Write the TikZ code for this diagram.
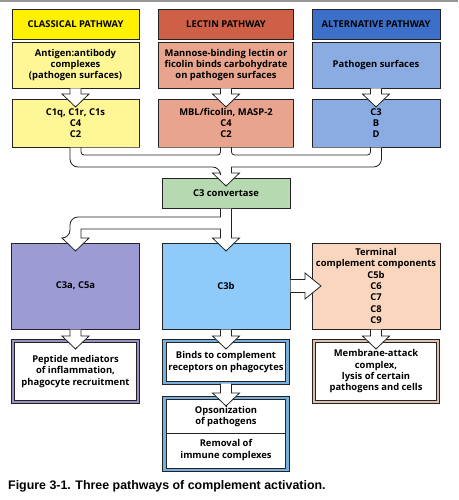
\documentclass[tikz,border=0pt]{standalone}
\usepackage{fontspec}
\setmainfont{Open Sans}
\newfontfamily\capfont{Liberation Sans}
\usetikzlibrary{calc}

\definecolor{edge}{RGB}{35,35,35}
\definecolor{clhead}{RGB}{255,242,0}
\definecolor{clbody}{RGB}{255,246,150}
\definecolor{lchead}{RGB}{206,96,72}
\definecolor{lcbody}{RGB}{232,164,140}
\definecolor{alhead}{RGB}{60,112,200}
\definecolor{albody}{RGB}{138,172,226}
\definecolor{convfill}{RGB}{182,217,177}
\definecolor{pepfill}{RGB}{157,155,212}
\definecolor{bindfill}{RGB}{142,202,250}
\definecolor{termfill}{RGB}{250,214,190}
\definecolor{pepband}{RGB}{150,146,200}
\definecolor{bindband}{RGB}{120,175,225}
\definecolor{termband}{RGB}{222,192,172}
\definecolor{topgray}{RGB}{150,150,150}

\tikzset{
  box/.style={draw=edge, line width=.8pt, fill=#1, outer sep=0pt, inner sep=1pt,
    align=center, font=\bfseries\fontsize{9.4}{11.3}\selectfont},
  outcome/.style={draw=edge, line width=.7pt, double=#1, double distance=2.8pt,
    fill=white, outer sep=0pt, inner sep=1pt, align=center,
    font=\bfseries\fontsize{9.4}{11.3}\selectfont},
  txt/.style={align=center, inner sep=0pt, font=\bfseries\fontsize{9.4}{11.3}\selectfont},
  pipe/.style={draw=edge, line width=.8pt, fill=white, line join=miter},
  pipeline/.style={draw=edge, line width=.8pt},
}

% hollow arrow pointing down from #1 into #2
\newcommand\hollowdown[2]{%
  \draw[pipe] ($(#1.south)+(-5.5,.5)$) -- ($(#2.north)+(-5.5,-5)$) -- ++(-8,0)
    -- ($(#2.north)+(0,8)$) -- ($(#2.north)+(13.5,-5)$) -- ++(-8,0)
    -- ($(#1.south)+(5.5,.5)$);}

\begin{document}
\begin{tikzpicture}[x=1pt, y=-1pt]
  \useasboundingbox (0,0) rectangle (458,500);
  \fill[topgray] (0,0) rectangle (458,2.5);

  % pathway headers
  \node[box=clhead, minimum width=127pt, minimum height=30pt] (clh) at (75.5,24) {CLASSICAL PATHWAY};
  \node[box=lchead, minimum width=135pt, minimum height=30pt] (lch) at (226,24) {LECTIN PATHWAY};
  \node[box=alhead, minimum width=128pt, minimum height=30pt] (alh) at (376,24) {ALTERNATIVE PATHWAY};

  % initiators
  \node[box=clbody, minimum width=127pt, minimum height=46pt] (cl1) at (75.5,65)
    {Antigen:antibody\\complexes\\(pathogen surfaces)};
  \node[box=lcbody, minimum width=135pt, minimum height=46pt] (lc1) at (226,65)
    {Mannose-binding lectin or\\ficolin binds carbohydrate\\on pathogen surfaces};
  \node[box=albody, minimum width=128pt, minimum height=46pt] (al1) at (376,65)
    {Pathogen surfaces};

  % early components
  \node[box=clbody, minimum width=127pt, minimum height=48pt] (cl2) at (75.5,123)
    {C1q, C1r, C1s\\C4\\C2};
  \node[box=lcbody, minimum width=135pt, minimum height=48pt] (lc2) at (226,123)
    {MBL/ficolin, MASP-2\\C4\\C2};
  \node[box=albody, minimum width=128pt, minimum height=48pt] (al2) at (376,123)
    {C3\\B\\D};

  \hollowdown{cl1}{cl2}
  \hollowdown{lc1}{lc2}
  \hollowdown{al1}{al2}

  \node[box=convfill, minimum width=128pt, minimum height=30pt] (conv) at (226,193) {C3 convertase};

  % merging pipe into the convertase
  \draw[pipe] ($(cl2.south)+(-5.5,.5)$) [rounded corners=8pt] |- ($(conv.north)+(-5.5,-11)$)
    [sharp corners] -- ($(conv.north)+(-5.5,-5)$) -- ++(-8,0) -- ($(conv.north)+(0,8)$)
    -- ($(conv.north)+(13.5,-5)$) -- ++(-8,0) -- ($(conv.north)+(5.5,-11)$)
    [rounded corners=8pt] -| ($(al2.south)+(5.5,.5)$);
  \draw[pipeline] ($(cl2.south)+(5.5,0)$) [rounded corners=3pt] |- ($(lc2.south)+(-5.5,8)$)
    -- ($(lc2.south)+(-5.5,0)$);
  \draw[pipeline] ($(lc2.south)+(5.5,0)$) [rounded corners=3pt] -- ($(lc2.south)+(5.5,8)$)
    -| ($(al2.south)+(-5.5,0)$);

  % products
  \node[box=pepfill, minimum width=128pt, minimum height=86pt] (c3a) at (75.5,286) {C3a, C5a};
  \node[box=bindfill, minimum width=128pt, minimum height=86pt] (c3b) at (226,286) {C3b};
  \node[box=termfill, minimum width=128pt, minimum height=86pt] (term) at (376,286)
    {Terminal\\complement components\\C5b\\C6\\C7\\C8\\C9};

  % splitting pipe out of the convertase
  \draw[pipe] ($(conv.south)+(-5.5,.5)$) -- ($(conv.south)+(-5.5,9)$)
    [rounded corners=8pt] -| ($(c3a.north)+(-5.5,-5)$)
    [sharp corners] -- ++(-8,0) -- ($(c3a.north)+(0,8)$) -- ($(c3a.north)+(13.5,-5)$)
    -- ++(-8,0) |- ($(c3b.north)+(-5.5,-14)$) -- ($(c3b.north)+(-5.5,-5)$) -- ++(-8,0)
    -- ($(c3b.north)+(0,8)$) -- ($(c3b.north)+(13.5,-5)$) -- ++(-8,0)
    -- ($(conv.south)+(5.5,.5)$);

  \draw[pipe] ($(c3b.east)+(.5,-6.5)$) -- ($(term.west)+(-7,-6.5)$) -- ++(0,-6.5)
    -- ($(term.west)+(9,0)$) -- ($(term.west)+(-7,13)$) -- ++(0,-6.5)
    -- ($(c3b.east)+(.5,6.5)$);

  % outcomes
  \node[outcome=pepband, minimum width=125pt, minimum height=61pt] (pept) at (75.5,371.5)
    {Peptide mediators\\of inflammation,\\phagocyte recruitment};
  \node[outcome=bindband, minimum width=123pt, minimum height=42pt] (binds) at (226,362)
    {Binds to complement\\receptors on phagocytes};
  \node[outcome=bindband, minimum width=123pt, minimum height=72pt] (opso) at (226,434) {};
  \node[outcome=termband, minimum width=124pt, minimum height=61pt] (mac) at (376,371.5)
    {Membrane-attack\\complex,\\lysis of certain\\pathogens and cells};
  \node[txt] (opsotext) at (226,416.5) {Opsonization\\of pathogens};
  \node[txt] (remtext) at (226,450) {Removal of\\immune complexes};
  \draw[pipeline, line width=.6pt] ($(opso.west)+(2,-1)$) -- ($(opso.east)+(-2,-1)$);

  \hollowdown{c3a}{pept}
  \hollowdown{c3b}{binds}
  \hollowdown{term}{mac}
  \hollowdown{binds}{opso}

  \node[anchor=base west, inner sep=0pt, font=\capfont\bfseries\fontsize{12.4}{15}\selectfont]
    (caption) at (8,489) {Figure 3-1. Three pathways of complement activation.};
\end{tikzpicture}
\end{document}
